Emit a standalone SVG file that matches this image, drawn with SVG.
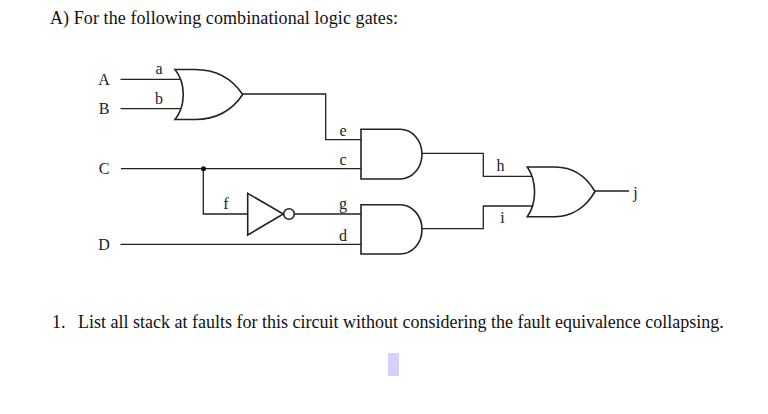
<svg xmlns="http://www.w3.org/2000/svg" width="768" height="414" viewBox="0 0 768 414">
<style>
.w{fill:none;stroke:#222;stroke-width:1.3}
.g{fill:#fff;stroke:#222;stroke-width:1.6}
.l{font-family:"Liberation Serif",serif;font-size:16px;fill:#222;text-anchor:middle}
.t{font-family:"Liberation Serif",serif;font-size:18px;fill:#111}
</style>
<rect width="768" height="414" fill="#fff"/>
<text class="t" x="50" y="24" textLength="348" lengthAdjust="spacing">A) For the following combinational logic gates:</text>
<text class="t" x="52" y="328">1.</text>
<text class="t" x="78" y="328">List all stack at faults for this circuit without considering the fault equivalence collapsing.</text>
<rect x="388" y="353" width="11" height="23" fill="#d4d0ff"/>
<g id="connectors">
<path class="w" d="M120.500 79.300H180M120.500 108.700H180M243 94H325.700V139.700H361M121 168.700H361M203.300 168.700V214H247.500M294.500 214H361M120.500 244.300H361M422 153.300H483.300V176.300H532M422 228.700H483.300V206H532M595 191H629"/>
<circle cx="203.500" cy="168.700" r="2.500" fill="#111"/>
</g>
<g id="or1"><path class="g" d="M175 69.500H195C217 69.500 233 80 242.700 94.500C233 109 217 119.500 195 119.500H175C186 106 186 83 175 69.500Z"/></g>
<g id="inv"><path class="g" d="M247.700 193.300V235L283.300 214Z"/><circle class="g" cx="289" cy="214" r="5.300"/></g>
<g id="and1"><path class="g" d="M361 129.300H400C412 129.300 422 140 422 154.200C422 168 412 179 400 179H361Z"/></g>
<g id="and2"><path class="g" d="M361 204.700H400C412 204.700 422 215.500 422 229.500C422 243.500 412 254 400 254H361Z"/></g>
<g id="or2"><path class="g" d="M527.300 167H555C572 167 586 176 595 191.500C586 207 572 216.700 555 216.700H527.300C537 203 537 181 527.300 167Z"/></g>
<g id="labels">
<text class="l" x="104" y="84.500">A</text><text class="l" x="104" y="114">B</text><text class="l" x="104" y="174">C</text><text class="l" x="104" y="249.500">D</text>
<text class="l" x="159" y="74">a</text><text class="l" x="159" y="104">b</text><text class="l" x="343" y="136">e</text><text class="l" x="343" y="165">c</text>
<text class="l" x="226" y="208.500">f</text><text class="l" x="343" y="208.500">g</text><text class="l" x="343" y="240.500">d</text>
<text class="l" x="500.500" y="171">h</text><text class="l" x="502.500" y="222.500">i</text><text class="l" x="635.500" y="197.500">j</text>
</g>
</svg>
